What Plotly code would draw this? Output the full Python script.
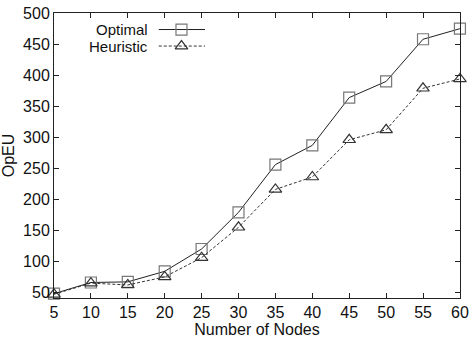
import plotly.graph_objects as go

# Number of nodes and OpEU per method
nodes = [5, 10, 15, 20, 25, 30, 35, 40, 45, 50, 55, 60]
optimal = [48, 66, 67, 84, 120, 179, 256, 287, 364, 390, 458, 475]
heuristic = [47, 65, 62, 75, 106, 155, 216, 236, 296, 312, 379, 394]

series_names = ["Optimal", "Heuristic"]
x_ticks = [5, 10, 15, 20, 25, 30, 35, 40, 45, 50, 55, 60]
y_ticks = [50, 100, 150, 200, 250, 300, 350, 400, 450, 500]

FONT = "Liberation Sans, Arial, sans-serif"
styles = [
    dict(line=dict(color="#222", width=1, dash="solid"),
         marker=dict(symbol="square-open", size=11, color="#777", line=dict(width=1.2))),
    dict(line=dict(color="#333", width=1, dash="3px,2px"),
         marker=dict(symbol="triangle-up-open", size=11, color="#333", line=dict(width=1.2))),
]

fig = go.Figure()
for name, ys, st in zip(series_names, [optimal, heuristic], styles):
    fig.add_trace(go.Scatter(x=nodes, y=ys, mode="lines+markers", name=name,
                             line=st["line"], marker=st["marker"], showlegend=False,
                             cliponaxis=False))

# gnuplot-style key: label on the left, sample on the right
key_y = [0.942, 0.884]
for name, ky, st in zip(series_names, key_y, styles):
    fig.add_trace(go.Scatter(x=[0.258, 0.372], y=[ky, ky], mode="lines", line=st["line"],
                             xaxis="x2", yaxis="y2", showlegend=False, hoverinfo="skip"))
    fig.add_trace(go.Scatter(x=[0.314], y=[ky], mode="markers", marker=st["marker"],
                             xaxis="x2", yaxis="y2", showlegend=False, hoverinfo="skip"))
    fig.add_annotation(x=0.235, y=ky, xref="x2", yref="y2", text=name, showarrow=False,
                       xanchor="right", yanchor="middle", borderpad=0,
                       font=dict(family=FONT, size=15, color="#111"))

axis_common = dict(showline=True, linecolor="#222", linewidth=1, mirror="ticks",
                   ticks="inside", ticklen=5, tickcolor="#222", showgrid=False,
                   zeroline=False, ticklabeloverflow="allow",
                   tickfont=dict(family=FONT, size=16, color="#111"))

fig.update_layout(
    width=474, height=339,
    margin=dict(l=54, r=9, t=5, b=39),
    paper_bgcolor="white", plot_bgcolor="white",
    xaxis=dict(range=[5, 60.01], tickvals=x_ticks, **axis_common,
               title=dict(text="Number of Nodes", standoff=2,
                          font=dict(family=FONT, size=16, color="#111"))),
    yaxis=dict(range=[41, 500.3], tickvals=y_ticks, **axis_common,
               title=dict(text="OpEU", standoff=6,
                          font=dict(family=FONT, size=16, color="#111"))),
    xaxis2=dict(range=[0, 1], overlaying="x", visible=False),
    yaxis2=dict(range=[0, 1], overlaying="y", visible=False),
)

fig.write_html("out.html")
